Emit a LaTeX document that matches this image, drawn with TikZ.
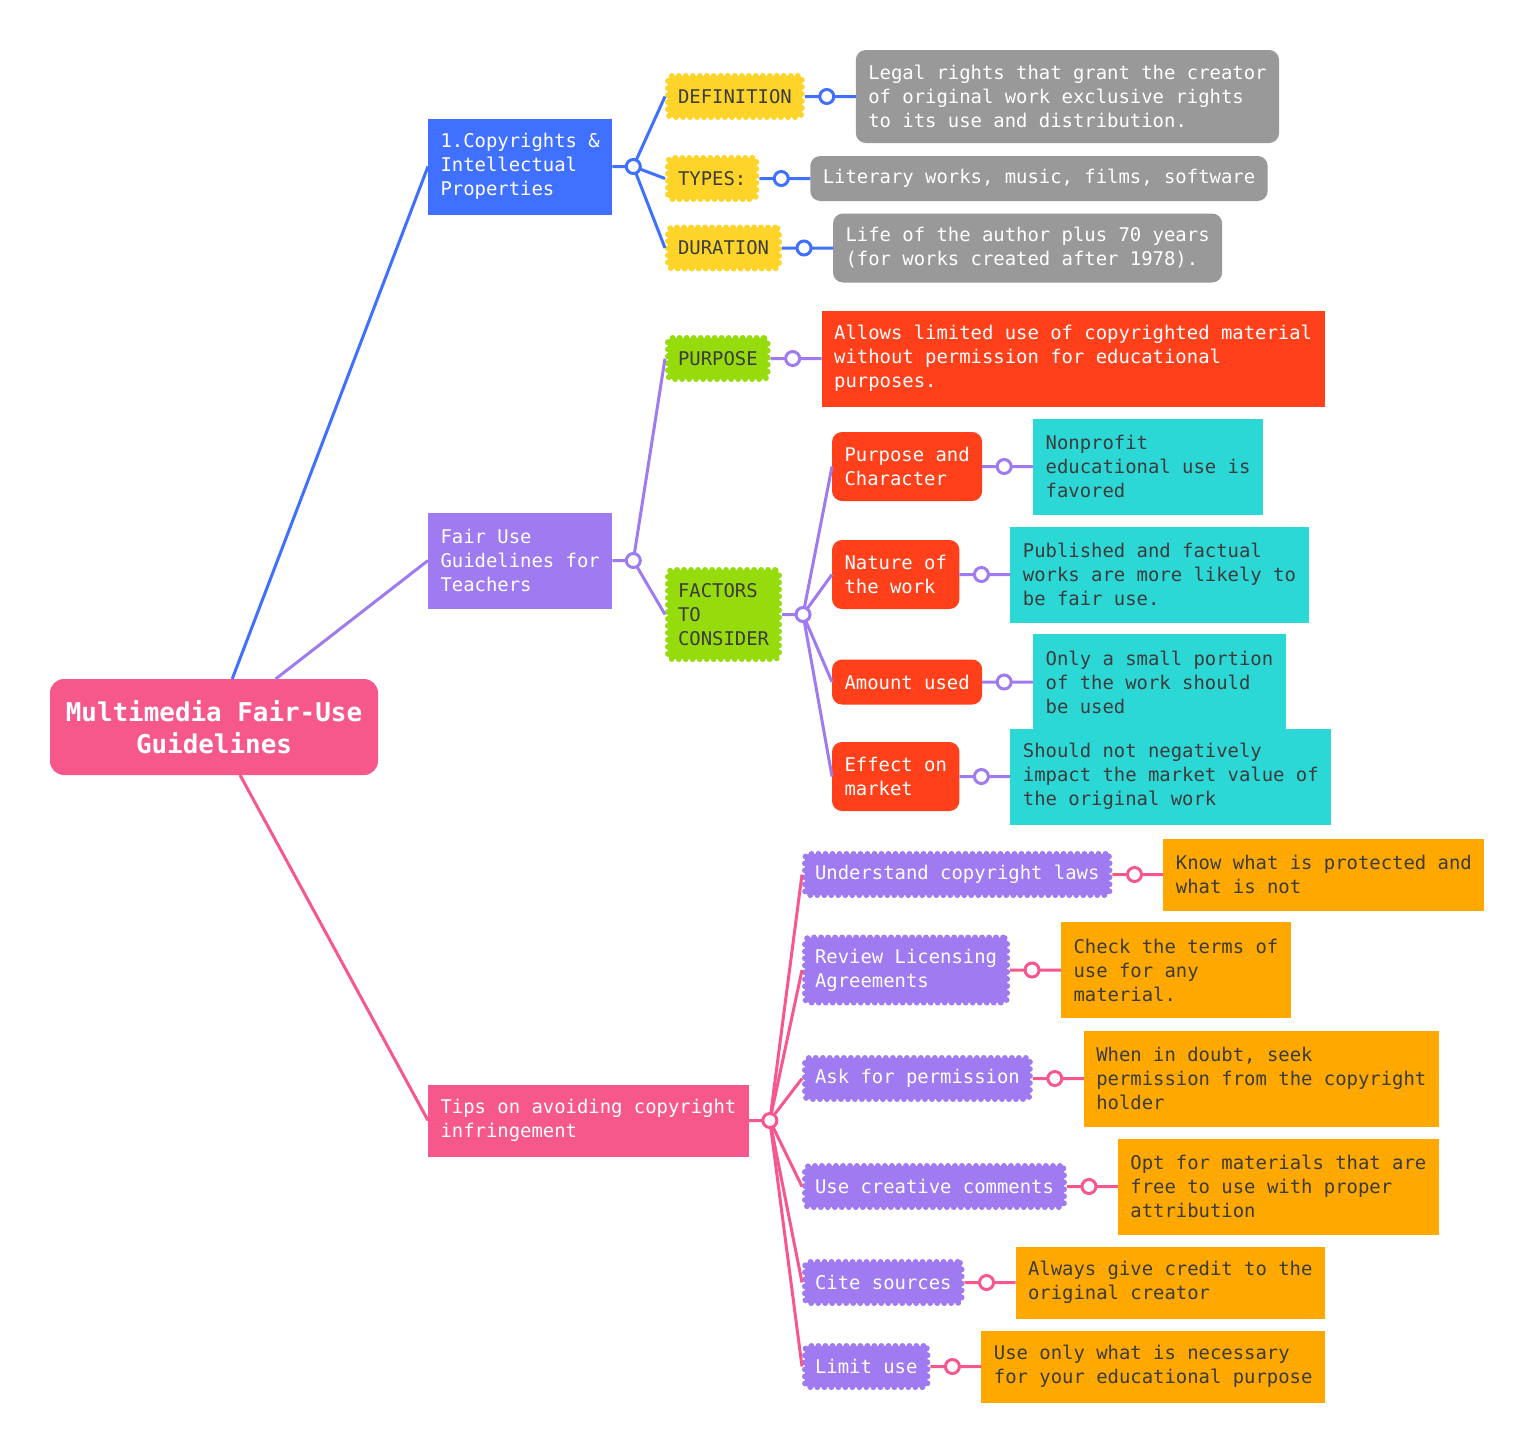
\documentclass[tikz,border=0pt]{standalone}
\usepackage{fontspec}
\usetikzlibrary{positioning}
\newfontfamily\mono{DejaVu Sans Mono}
\definecolor{pinkc}{RGB}{247,88,139}
\definecolor{bluec}{RGB}{64,112,255}
\definecolor{purplec}{RGB}{160,122,240}
\definecolor{yellowc}{RGB}{255,212,40}
\definecolor{greenc}{RGB}{150,219,12}
\definecolor{redc}{RGB}{255,64,26}
\definecolor{cyanc}{RGB}{44,216,214}
\definecolor{orangec}{RGB}{255,168,0}
\definecolor{grayc}{RGB}{153,153,153}
\definecolor{ink}{RGB}{60,60,60}

\begin{document}
\begin{tikzpicture}[x=1pt, y=-1pt,
        every node/.style={font=\mono\fontsize{18.9}{24}\selectfont, align=left, inner ysep=0pt, outer sep=0pt},
        box/.style={fill=#1, text=white, inner xsep=12.5pt},
        wavy/.style={fill=#1, draw=#1, text=white, line width=6pt, dash pattern=on 0pt off 7pt,
                     line cap=round, rounded corners=4pt, outer sep=3pt, inner xsep=10pt},
        dark/.style={text=ink},
        rows/.style={minimum height={#1*24pt+24pt}},
        wrows/.style={minimum height={#1*24pt+17pt}},
        soft/.style={rounded corners=10pt, minimum height={#1*24pt+21pt}},
        joint/.style={circle, draw=#1, fill=white, line width=3pt, minimum size=14pt, inner sep=0pt},
        link/.style={draw=#1, line width=3pt}]
    \useasboundingbox (0,0) rectangle (1536,1454);

    % root and first level
    \node[fill=pinkc, text=white, rounded corners=14pt, align=center, minimum width=328pt,
          minimum height=96pt, font=\mono\bfseries\fontsize{25.9}{32}\selectfont]
          (nodeRoot) at (214,727) {Multimedia Fair-Use\\Guidelines};
    \node[box=bluec, rows=3, anchor=west] (nodeCopy) at (428,166.5) {1.Copyrights \&\\Intellectual\\Properties};
    \node[box=purplec, rows=3, anchor=west] (nodeFair) at (428,560.5) {Fair Use\\Guidelines for\\Teachers};
    \node[box=pinkc, rows=2, anchor=west] (nodeTips) at (428,1120.5) {Tips on avoiding copyright\\infringement};
    \node[joint=bluec, right=14pt of nodeCopy] (jCopy) {};
    \node[joint=purplec, right=14pt of nodeFair] (jFair) {};
    \node[joint=pinkc, right=14pt of nodeTips] (jTips) {};
    \foreach \n/\c in {Copy/bluec, Fair/purplec, Tips/pinkc}
        \draw[link=\c] (nodeRoot) -- (node\n.west) (node\n.east) -- (j\n);

    % copyrights
    \node[wavy=yellowc, dark, wrows=1, anchor=west] (nodeDef) at (665,96.5) {DEFINITION};
    \node[wavy=yellowc, dark, wrows=1, anchor=west] (nodeTypes) at (665,178.5) {TYPES:};
    \node[wavy=yellowc, dark, wrows=1, anchor=west] (nodeDur) at (665,248) {DURATION};
    \foreach \n in {Def, Types, Dur}
        \node[joint=bluec, right=15pt of node\n] (j\n) {};
    \node[box=grayc, soft=3, right=22pt of jDef] (leafDef)
        {Legal rights that grant the creator\\of original work exclusive rights\\to its use and distribution.};
    \node[box=grayc, soft=1, right=22pt of jTypes] (leafTypes) {Literary works, music, films, software};
    \node[box=grayc, soft=2, right=22pt of jDur] (leafDur)
        {Life of the author plus 70 years\\(for works created after 1978).};
    \foreach \n in {Def, Types, Dur}
        \draw[link=bluec] (jCopy) -- (node\n.west) (node\n.east) -- (j\n) -- (leaf\n.west);

    % fair use
    \node[wavy=greenc, dark, wrows=1, anchor=west] (nodePurp) at (665,358.5) {PURPOSE};
    \node[wavy=greenc, dark, wrows=3, anchor=west] (nodeFact) at (665,614.5) {FACTORS\\TO\\CONSIDER};
    \node[joint=purplec, right=15pt of nodePurp] (jPurp) {};
    \node[joint=purplec, right=14pt of nodeFact] (jFact) {};
    \node[box=redc, rows=3, right=22pt of jPurp] (leafPurp)
        {Allows limited use of copyrighted material\\without permission for educational\\purposes.};
    \draw[link=purplec] (jFair) -- (nodePurp.west) (nodePurp.east) -- (jPurp) -- (leafPurp.west);
    \draw[link=purplec] (jFair) -- (nodeFact.west) (nodeFact.east) -- (jFact);

    \node[box=redc, soft=2, anchor=west] (nodeChar) at (832,466.5) {Purpose and\\Character};
    \node[box=redc, soft=2, anchor=west] (nodeNat) at (832,574.5) {Nature of\\the work};
    \node[box=redc, soft=1, anchor=west] (nodeAmt) at (832,682) {Amount used};
    \node[box=redc, soft=2, anchor=west] (nodeEff) at (832,776.5) {Effect on\\market};
    \foreach \n in {Char, Nat, Amt, Eff}
        \node[joint=purplec, right=15pt of node\n] (j\n) {};
    \node[box=cyanc, dark, rows=3, right=22pt of jChar] (leafChar) {Nonprofit\\educational use is\\favored};
    \node[box=cyanc, dark, rows=3, right=22pt of jNat] (leafNat)
        {Published and factual\\works are more likely to\\be fair use.};
    \node[box=cyanc, dark, rows=3, right=22pt of jAmt] (leafAmt) {Only a small portion\\of the work should\\be used};
    \node[box=cyanc, dark, rows=3, right=22pt of jEff] (leafEff)
        {Should not negatively\\impact the market value of\\the original work};
    \foreach \n in {Char, Nat, Amt, Eff}
        \draw[link=purplec] (jFact) -- (node\n.west) (node\n.east) -- (j\n) -- (leaf\n.west);

    % tips
    \node[wavy=purplec, wrows=1, anchor=west] (nodeLaws) at (802,874.5) {Understand copyright laws};
    \node[wavy=purplec, wrows=2, anchor=west] (nodeLic) at (802,970) {Review Licensing\\Agreements};
    \node[wavy=purplec, wrows=1, anchor=west] (nodeAsk) at (802,1078.5) {Ask for permission};
    \node[wavy=purplec, wrows=1, anchor=west] (nodeCC) at (802,1186.5) {Use creative comments};
    \node[wavy=purplec, wrows=1, anchor=west] (nodeCite) at (802,1282.5) {Cite sources};
    \node[wavy=purplec, wrows=1, anchor=west] (nodeLim) at (802,1366.5) {Limit use};
    \foreach \n in {Laws, Lic, Ask, CC, Cite, Lim}
        \node[joint=pinkc, right=15pt of node\n] (j\n) {};
    \node[box=orangec, dark, rows=2, right=22pt of jLaws] (leafLaws) {Know what is protected and\\what is not};
    \node[box=orangec, dark, rows=3, right=22pt of jLic] (leafLic) {Check the terms of\\use for any\\material.};
    \node[box=orangec, dark, rows=3, right=22pt of jAsk] (leafAsk)
        {When in doubt, seek\\permission from the copyright\\holder};
    \node[box=orangec, dark, rows=3, right=22pt of jCC] (leafCC)
        {Opt for materials that are\\free to use with proper\\attribution};
    \node[box=orangec, dark, rows=2, right=22pt of jCite] (leafCite) {Always give credit to the\\original creator};
    \node[box=orangec, dark, rows=2, right=22pt of jLim] (leafLim)
        {Use only what is necessary\\for your educational purpose};
    \foreach \n in {Laws, Lic, Ask, CC, Cite, Lim}
        \draw[link=pinkc] (jTips) -- (node\n.west) (node\n.east) -- (j\n) -- (leaf\n.west);
\end{tikzpicture}
\end{document}
